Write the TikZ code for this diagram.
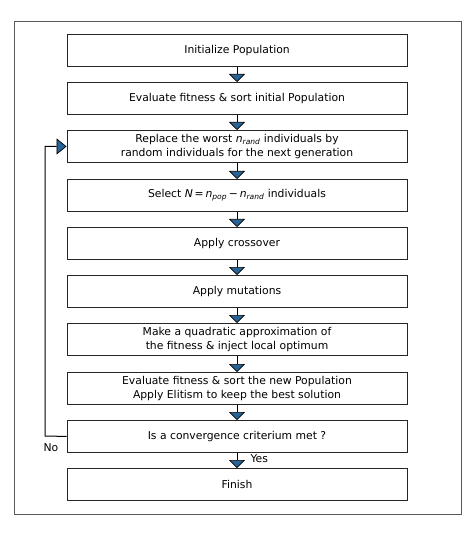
\documentclass[tikz,border=0pt]{standalone}
\usepackage{fontspec}
\setmainfont{DejaVu Sans}
\usetikzlibrary{arrows.meta}
\definecolor{arrowblue}{RGB}{40,100,150}
\definecolor{framegray}{RGB}{90,90,90}
\newcommand{\mysub}[1]{\textsubscript{\itshape #1}}
\begin{document}
\begin{tikzpicture}[x=1pt,y=-1pt,
  stepbox/.style={draw=black!85, line width=0.9pt, minimum width=340pt, minimum height=32pt, inner sep=0pt, align=center, font=\fontsize{10.8pt}{13.5pt}\selectfont, anchor=north},
  flowarrow/.style={line width=1pt, -{Triangle[width=16pt,length=8pt,fill=arrowblue,line width=0.7pt]}},
  backarrow/.style={line width=1pt, -{Triangle[width=16pt,length=10pt,fill=arrowblue,line width=0.7pt]}},
  lbl/.style={font=\fontsize{10.8pt}{13.5pt}\selectfont}]
\useasboundingbox (0,0) rectangle (474,534);
\draw[framegray, line width=0.9pt] (14,21) rectangle (461,514);
\node[stepbox] (b1) at (237,34) {Initialize Population};
\node[stepbox] (b2) at (237,82) {Evaluate fitness \& sort initial Population};
\node[stepbox] (b3) at (237,130) {Replace the worst \textit{n}\mysub{rand} individuals by\\random individuals for the next generation};
\node[stepbox] (b4) at (237,179) {Select \textit{N}\,=\,\textit{n}\mysub{pop}\,−\,\textit{n}\mysub{rand} individuals};
\node[stepbox] (b5) at (237,227) {Apply crossover};
\node[stepbox] (b6) at (237,275) {Apply mutations};
\node[stepbox] (b7) at (237,323) {Make a quadratic approximation of\\the fitness \& inject local optimum};
\node[stepbox] (b8) at (237,372) {Evaluate fitness \& sort the new Population\\Apply Elitism to keep the best solution};
\node[stepbox] (b9) at (237,420) {Is a convergence criterium met ?};
\node[stepbox] (b10) at (237,468) {Finish};
\foreach \a/\b in {b1/b2,b2/b3,b3/b4,b4/b5,b5/b6,b6/b7,b7/b8,b8/b9,b9/b10}
  \draw[flowarrow] (\a.south) -- (\b.north);
\coordinate (loopc) at (45,436);
\draw[backarrow] (b9.west) -- (loopc) |- (b3.west);
\node[lbl, anchor=center] (no) at (51,448) {No};
\node[lbl, anchor=west] (yes) at (247,459) {Yes};
\end{tikzpicture}
\end{document}
